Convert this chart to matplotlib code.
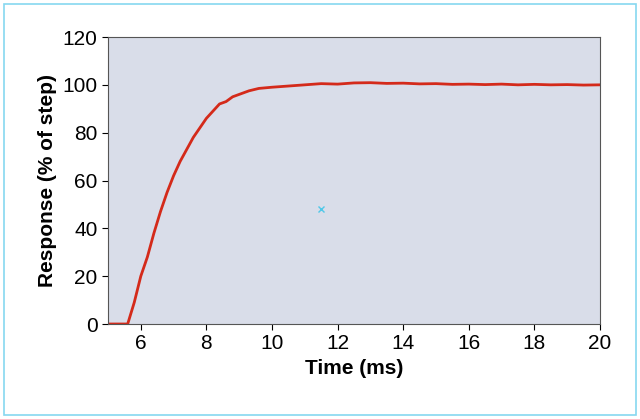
import matplotlib
matplotlib.use("Agg")
import matplotlib.pyplot as plt
from matplotlib.patches import Rectangle

plt.rcParams['font.family'] = ['Liberation Sans', 'DejaVu Sans']

time_ms = [5.0, 5.3, 5.6, 5.8, 6.0, 6.2, 6.4, 6.6, 6.8, 7.0, 7.2, 7.4, 7.6, 7.8, 8.0, 8.2, 8.4, 8.6, 8.8,
           9.0, 9.3, 9.6, 10.0, 10.5, 11.0, 11.5, 12.0, 12.5, 13.0, 13.5, 14.0, 14.5, 15.0, 15.5, 16.0,
           16.5, 17.0, 17.5, 18.0, 18.5, 19.0, 19.5, 20.0]
response = [0, 0, 0, 9, 20, 28, 38, 47, 55, 62, 68, 73, 78, 82, 86, 89, 92, 93, 95,
            96, 97.5, 98.5, 99, 99.5, 100, 100.5, 100.3, 100.8, 100.9, 100.6, 100.7, 100.4, 100.5, 100.2, 100.3,
            100.1, 100.3, 100.0, 100.2, 100.0, 100.1, 99.9, 100.0]
marker_point = (11.5, 48)

fig = plt.figure(figsize=(6.4, 4.19), dpi=100)
fig.patches.append(Rectangle((0.006, 0.01), 0.988, 0.98, transform=fig.transFigure,
                             fill=False, edgecolor="#86d8f0", linewidth=1.2))
ax = fig.add_axes([108/640, 1-324/419, (600-108)/640, (324-37)/419])
ax.set_facecolor("#d9dde9")
ax.plot(time_ms, response, color="#d42a1a", linewidth=2)
ax.plot(*marker_point, marker="x", color="#50c8e8", markersize=5, markeredgewidth=1)
ax.set_xlim(5, 20)
ax.set_ylim(0, 120)
ax.set_xticks(range(6, 21, 2))
ax.set_yticks(range(0, 121, 20))
ax.tick_params(labelsize=15, direction="out", length=4)
ax.set_xlabel("Time (ms)", fontsize=15, fontweight="bold")
ax.set_ylabel("Response (% of step)", fontsize=15, fontweight="bold")
for s in ax.spines.values():
    s.set_color("#555555")
fig.savefig("out.png", dpi=100)
